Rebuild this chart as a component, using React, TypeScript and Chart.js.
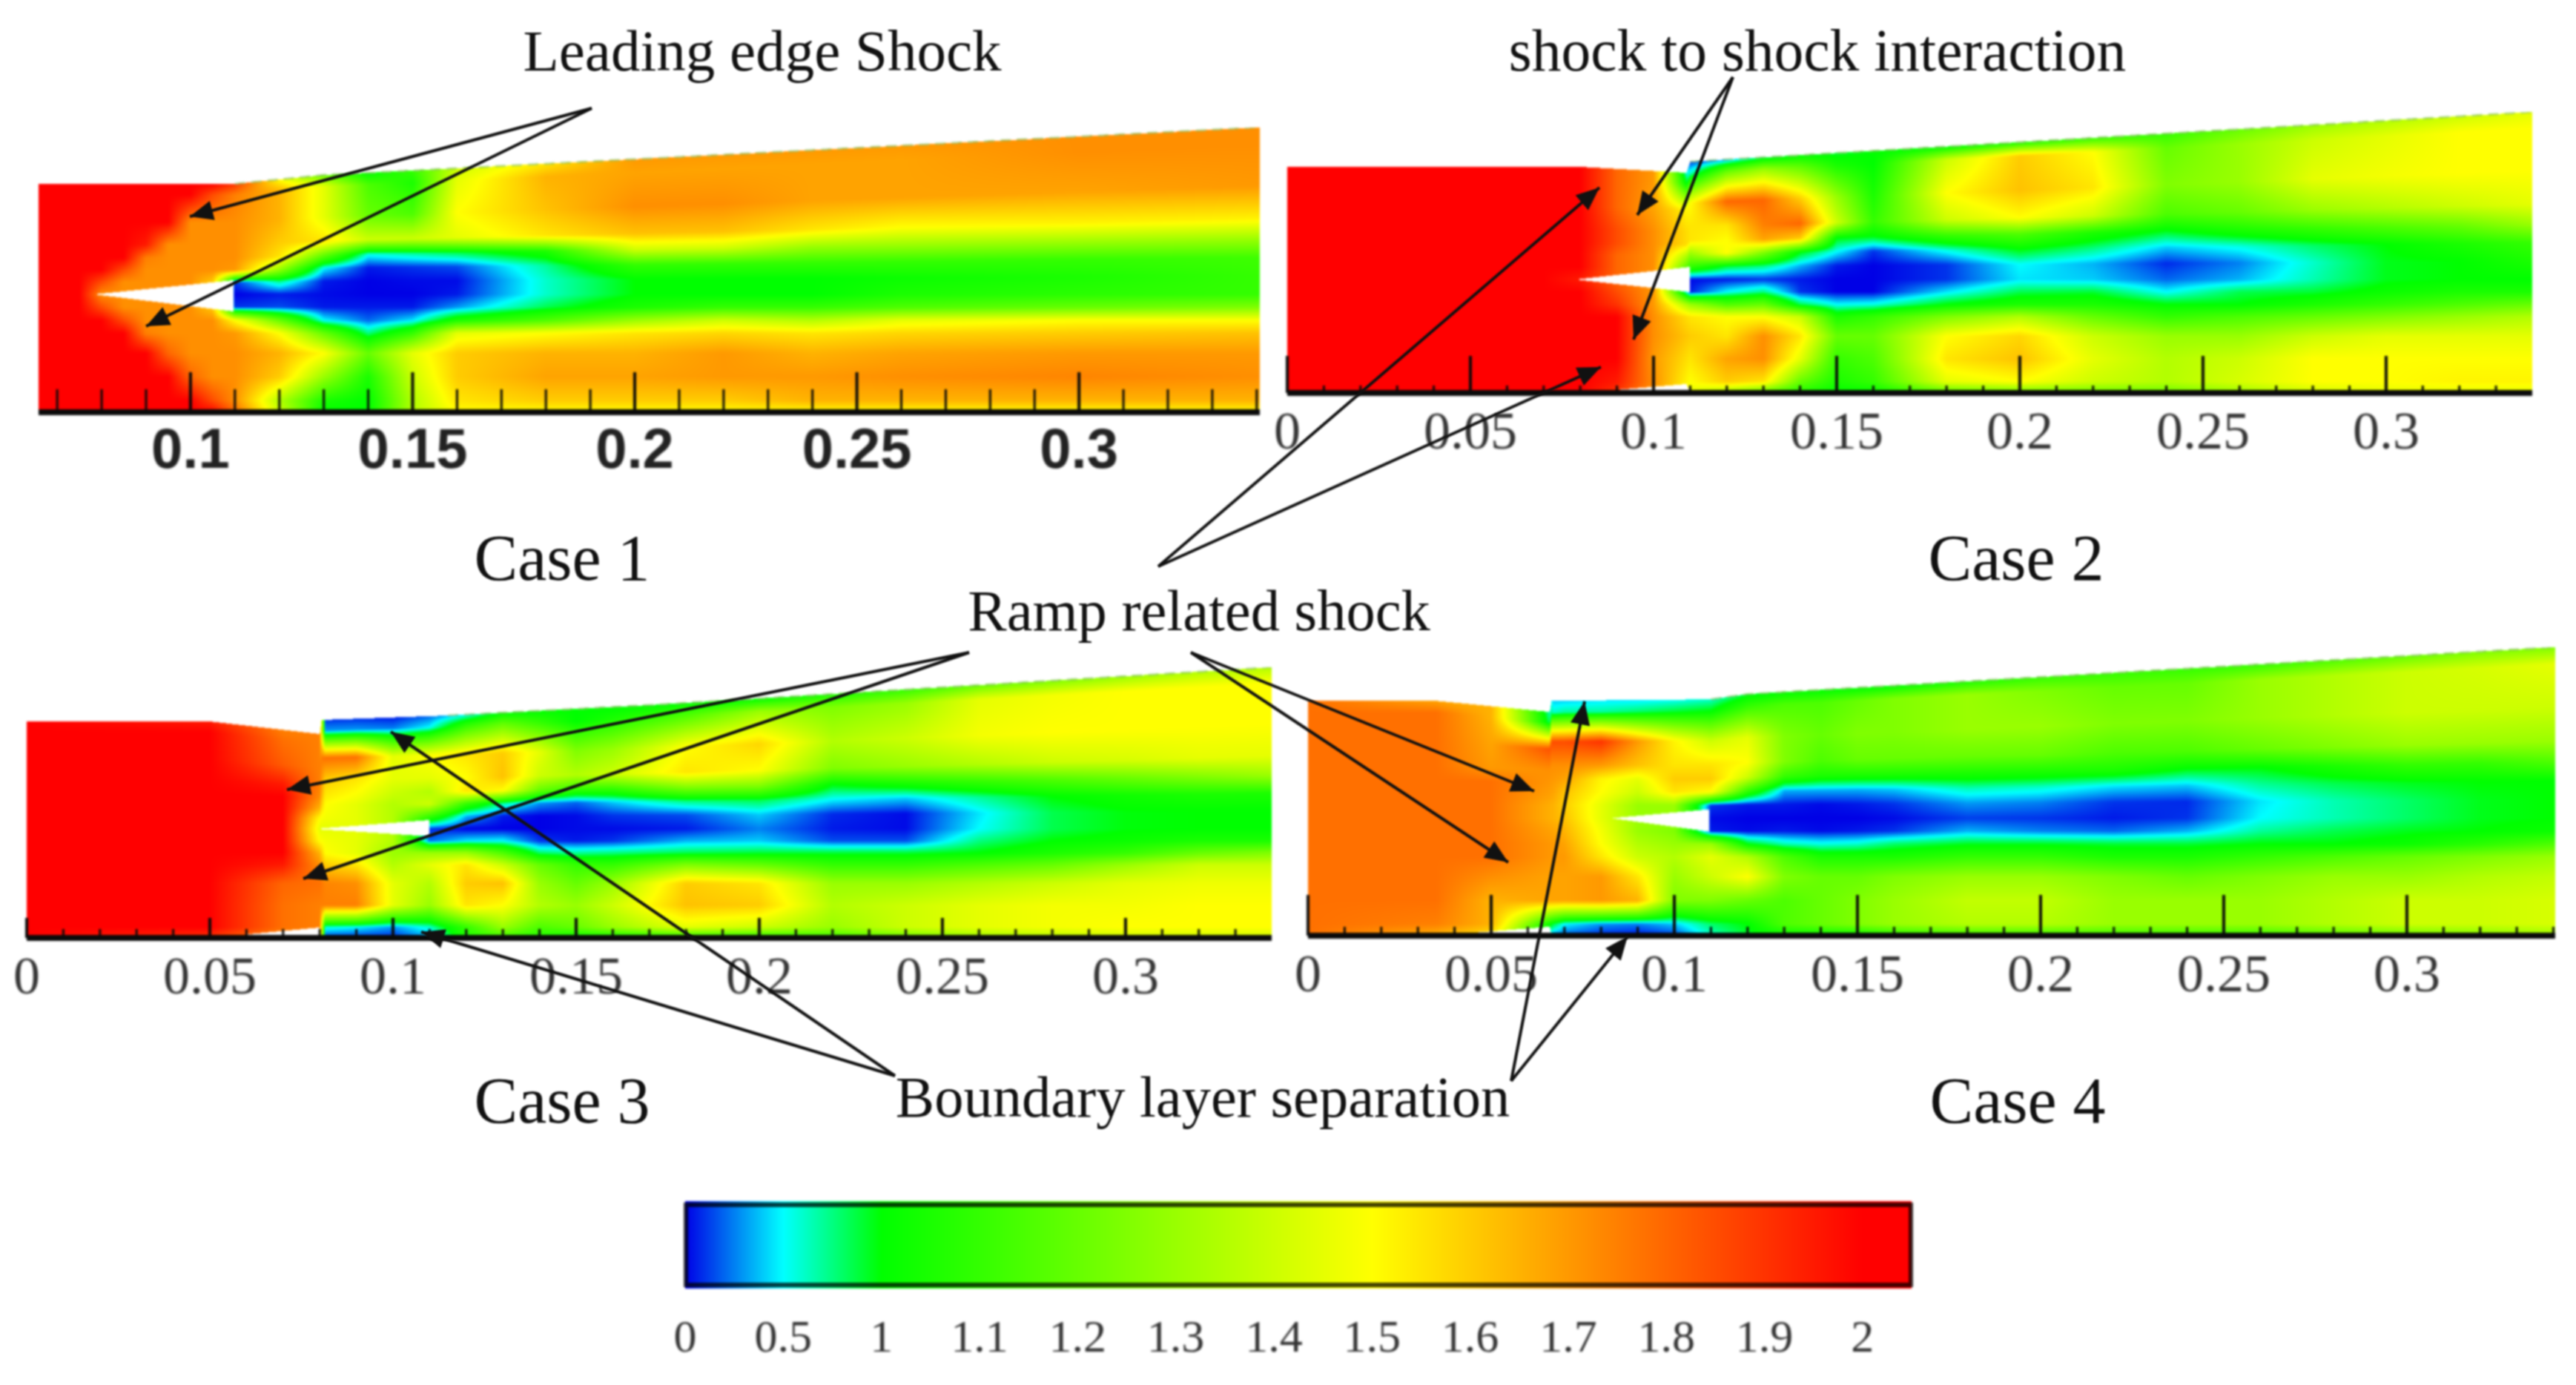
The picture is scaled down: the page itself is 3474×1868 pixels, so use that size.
import React, { useEffect, useRef } from "react";
import { Chart, registerables } from "chart.js";

Chart.register(...registerables);

// Colour legend: the labelled values sit at equal spacing on the bar
const legendLabels = ["0", "0.5", "1", "1.1", "1.2", "1.3", "1.4", "1.5", "1.6", "1.7", "1.8", "1.9", "2"];
const legendValues = [0, 0.5, 1, 1.1, 1.2, 1.3, 1.4, 1.5, 1.6, 1.7, 1.8, 1.9, 2];
const legendPositions = [0, 1, 2, 3, 4, 5, 6, 7, 8, 9, 10, 11, 12];
const colourStopAt = [0, 1, 2, 7, 12];
const colourStops = [
  [0, 0, 230],
  [0, 255, 255],
  [0, 255, 0],
  [255, 255, 0],
  [255, 0, 0],
];

// Field rows: +1 is the upper wall, 0 the centreline, -1 the lower wall
const rowFracs = [1, 0.9, 0.65, 0.45, 0.33, 0.22, 0.11, 0, -0.11, -0.22, -0.33, -0.5, -0.7, -0.9, -1];

const majorTicks = [0, 0.05, 0.1, 0.15, 0.2, 0.25, 0.3];
const minorTicks = [
  0.01, 0.02, 0.03, 0.04, 0.06, 0.07, 0.08, 0.09, 0.11, 0.12, 0.13, 0.14, 0.16, 0.17, 0.18, 0.19, 0.21, 0.22, 0.23,
  0.24, 0.26, 0.27, 0.28, 0.29, 0.31, 0.32, 0.33, 0.34,
];

const case1X = [0.0658, 0.075, 0.08, 0.085, 0.09, 0.095, 0.1, 0.105, 0.11, 0.12, 0.13, 0.14, 0.15, 0.16, 0.18, 0.2, 0.22, 0.24, 0.26, 0.3, 0.34];
const case1Field = [
  [2, 2, 2, 2, 2, 2, 2, 2, 2, 2, 2, 2, 2, 2, 2],
  [2, 2, 2, 2, 2, 2, 2, 2, 2, 2, 2, 2, 2, 2, 2],
  [2, 2, 2, 2, 2, 2, 1.85, 1.72, 1.85, 2, 2, 2, 2, 2, 2],
  [2, 2, 2, 2, 2, 1.85, 1.72, 1.72, 1.72, 1.85, 2, 2, 2, 2, 2],
  [2, 2, 2, 1.95, 1.75, 1.72, 1.72, 1.72, 1.72, 1.72, 1.75, 2, 2, 2, 2],
  [2, 2, 2, 1.72, 1.72, 1.72, 1.72, 1.72, 1.72, 1.72, 1.72, 1.8, 2, 2, 2],
  [2, 2, 1.72, 1.72, 1.72, 1.72, 1.72, 1.72, 1.72, 1.72, 1.72, 1.72, 1.8, 2, 2],
  [2, 1.85, 1.72, 1.72, 1.72, 1.72, 1.6, 1.4, 1.6, 1.72, 1.72, 1.72, 1.72, 1.85, 2],
  [1.9, 1.75, 1.72, 1.72, 1.72, 1.7, 0.1, 0, 0.1, 1.5, 1.7, 1.72, 1.72, 1.72, 1.8],
  [1.5, 1.65, 1.65, 1.6, 1.55, 1.3, 0.7, 0.05, 0.15, 1.2, 1.5, 1.65, 1.6, 1.35, 1.4],
  [1.2, 1.45, 1.45, 1.55, 1.2, 0.5, 0.05, 0.02, 0.05, 0.5, 1.2, 1.5, 1.3, 1.05, 1],
  [1, 1.15, 1.2, 1.4, 0.55, 0.05, 0, 0, 0.05, 0.2, 0.75, 1.2, 1.05, 1, 1],
  [1.1, 1.05, 1.15, 1.4, 0.7, 0.1, 0.02, 0, 0.05, 0.45, 1.1, 1.45, 1.4, 1.35, 1.35],
  [1.4, 1.45, 1.5, 1.45, 0.85, 0.15, 0.02, 0.05, 0.3, 1.05, 1.45, 1.6, 1.6, 1.55, 1.5],
  [1.55, 1.65, 1.62, 1.55, 1.05, 0.7, 0.6, 0.6, 0.85, 1.15, 1.5, 1.65, 1.68, 1.6, 1.5],
  [1.7, 1.68, 1.72, 1.62, 1.4, 1.1, 1, 1, 1.05, 1.3, 1.55, 1.65, 1.68, 1.6, 1.5],
  [1.7, 1.68, 1.72, 1.62, 1.4, 1.1, 1, 1, 1.1, 1.4, 1.58, 1.7, 1.7, 1.6, 1.5],
  [1.7, 1.68, 1.68, 1.55, 1.3, 1.1, 1, 1, 1.1, 1.35, 1.55, 1.65, 1.7, 1.65, 1.5],
  [1.7, 1.68, 1.68, 1.5, 1.3, 1.1, 1.02, 1.05, 1.15, 1.45, 1.58, 1.68, 1.72, 1.65, 1.5],
  [1.72, 1.72, 1.68, 1.52, 1.3, 1.1, 1.05, 1.08, 1.2, 1.5, 1.6, 1.7, 1.74, 1.65, 1.5],
  [1.72, 1.72, 1.7, 1.52, 1.3, 1.12, 1.1, 1.1, 1.25, 1.5, 1.62, 1.7, 1.72, 1.65, 1.5],
];
const case1WallX = [0.0658, 0.11, 0.13, 0.15, 0.34];
const case1WallY = [149, 149, 161, 167, 225];
const case1FloorX = [0.0658, 0.34];
const case1FloorY = [-159, -159];

const case2X = [0, 0.07, 0.08, 0.09, 0.1, 0.11, 0.12, 0.13, 0.14, 0.15, 0.16, 0.18, 0.2, 0.22, 0.24, 0.26, 0.28, 0.3, 0.32, 0.34];
const case2Field = [
  [2, 2, 2, 2, 2, 2, 2, 2, 2, 2, 2, 2, 2, 2, 2],
  [2, 2, 2, 2, 2, 2, 2, 2, 2, 2, 2, 2, 2, 2, 2],
  [2, 2, 2, 2, 2, 2, 2, 1.95, 2, 2, 2, 2, 2, 2, 2],
  [1.8, 1.8, 1.8, 1.85, 1.85, 1.8, 1.8, 1.8, 1.85, 1.9, 2, 2, 2, 1.95, 1.9],
  [1.7, 1.7, 1.68, 1.72, 1.72, 1.72, 1.72, 1.7, 1.7, 1.7, 1.72, 1.72, 1.7, 1.72, 1.7],
  [0.1, 0.6, 1.5, 1.55, 1.55, 1.3, 1.1, 0.02, 0.05, 1.3, 1.55, 1.6, 1.55, 1.5, 1.45],
  [0.3, 1.2, 1.8, 1.55, 1.5, 1.5, 0.9, 0.05, 0.5, 1.15, 1.5, 1.55, 1.68, 1.6, 1.3],
  [0.8, 1.3, 1.8, 1.75, 1.68, 1.25, 0.75, 0.1, 0.75, 1.2, 1.5, 1.72, 1.72, 1.55, 1.15],
  [1, 1.2, 1.6, 1.8, 1.6, 1, 0.35, 0.05, 0.1, 0.85, 1.4, 1.55, 1.45, 1.2, 1.05],
  [0.9, 1.05, 1.3, 1.4, 1, 0.5, 0.05, 0, 0, 0.5, 1.05, 1.2, 1.1, 1.05, 1],
  [1, 1, 1.05, 1.1, 0.95, 0.1, 0, 0, 0, 0.55, 1.1, 1.2, 1.15, 1.1, 1],
  [1, 1.4, 1.5, 1.4, 1.1, 0.55, 0.1, 0.1, 0.45, 1, 1.25, 1.5, 1.55, 1.45, 1.15],
  [1.05, 1.6, 1.62, 1.5, 1.15, 1, 0.5, 0.45, 0.85, 1.05, 1.35, 1.58, 1.62, 1.5, 1.2],
  [1.1, 1.5, 1.55, 1.4, 1.05, 0.75, 0.35, 0.4, 0.9, 1.05, 1.2, 1.4, 1.45, 1.4, 1.2],
  [1.1, 1.2, 1.25, 1.15, 0.95, 0.4, 0.08, 0.2, 0.5, 1, 1.1, 1.3, 1.35, 1.35, 1.2],
  [1.2, 1.3, 1.3, 1.2, 1.05, 0.55, 0.25, 0.35, 0.85, 1, 1.15, 1.3, 1.4, 1.42, 1.3],
  [1.3, 1.4, 1.45, 1.3, 1.1, 0.8, 0.6, 0.65, 0.9, 1.05, 1.2, 1.4, 1.5, 1.5, 1.4],
  [1.35, 1.45, 1.48, 1.35, 1.15, 1, 0.95, 0.95, 1.02, 1.1, 1.25, 1.45, 1.5, 1.5, 1.45],
  [1.4, 1.5, 1.5, 1.4, 1.2, 1.05, 1, 1, 1.05, 1.15, 1.3, 1.45, 1.5, 1.52, 1.45],
  [1.45, 1.5, 1.5, 1.45, 1.3, 1.1, 1.05, 1, 1.05, 1.2, 1.35, 1.45, 1.5, 1.52, 1.45],
];
const case2WallX = [0, 0.08, 0.109, 0.11, 0.34];
const case2WallY = [152, 152, 144, 159, 226];
const case2FloorX = [0, 0.08, 0.109, 0.11, 0.34];
const case2FloorY = [-153, -153, -141, -153, -153];

const case3X = [0, 0.05, 0.07, 0.08, 0.0815, 0.09, 0.1, 0.11, 0.12, 0.13, 0.14, 0.15, 0.16, 0.18, 0.2, 0.22, 0.24, 0.26, 0.28, 0.3, 0.32, 0.34];
const case3Field = [
  [2, 2, 2, 2, 2, 2, 2, 2, 2, 2, 2, 2, 2, 2, 2],
  [1.95, 2, 2, 2, 2, 2, 2, 2, 2, 2, 2, 2, 2, 2, 1.9],
  [1.75, 1.78, 1.82, 1.95, 2, 2, 2, 2, 2, 2, 1.95, 1.8, 1.78, 1.78, 1.7],
  [1.75, 1.75, 1.75, 1.75, 1.72, 1.65, 1.5, 1.45, 1.5, 1.65, 1.72, 1.78, 1.75, 1.75, 1.7],
  [0.1, 0.3, 1.78, 1.6, 1.55, 1.5, 1.48, 1.45, 1.48, 1.5, 1.6, 1.74, 1.75, 0.6, 0.05],
  [0.1, 0.3, 1.78, 1.55, 1.5, 1.45, 1.45, 1.45, 1.45, 1.45, 1.55, 1.72, 1.75, 0.5, 0.05],
  [0.05, 0.25, 1.45, 1.45, 1.4, 1.35, 1.35, 1.35, 1.35, 1.3, 1.35, 1.45, 1.45, 0.3, 0.05],
  [0.2, 0.5, 1.5, 1.45, 1.35, 1.4, 1.1, 0.1, 0.2, 1.3, 1.45, 1.35, 1.3, 0.6, 0.3],
  [0.5, 1.1, 1.55, 1.5, 1.55, 1.1, 0.35, 0, 0.45, 1.3, 1.55, 1.6, 1.55, 1.1, 1.05],
  [1, 1.2, 1.6, 1.62, 1.5, 0.7, 0.05, 0, 0.5, 1.15, 1.4, 1.62, 1.5, 1.3, 1.1],
  [1, 1.1, 1.45, 1.4, 1.2, 0.3, 0, 0, 0.1, 0.8, 1.2, 1.3, 1.35, 1.15, 1.05],
  [1, 1, 1.25, 1.35, 1.1, 0.2, 0.02, 0.02, 0.05, 0.7, 1.1, 1.2, 1.3, 1.2, 1],
  [1, 1.05, 1.3, 1.4, 1.1, 0.4, 0.1, 0.02, 0.1, 0.75, 1.1, 1.3, 1.4, 1.3, 1],
  [1, 1.15, 1.5, 1.55, 1.25, 0.75, 0.15, 0.05, 0.35, 0.85, 1.25, 1.6, 1.62, 1.45, 1.05],
  [1, 1.3, 1.58, 1.5, 1.25, 0.85, 0.4, 0.25, 0.4, 0.9, 1.2, 1.55, 1.6, 1.4, 1.05],
  [1.05, 1.25, 1.35, 1.25, 1, 0.5, 0.08, 0.05, 0.15, 0.9, 1.1, 1.3, 1.35, 1.3, 1.1],
  [1.1, 1.3, 1.4, 1.3, 1.05, 0.4, 0.02, 0.02, 0.15, 0.9, 1.1, 1.3, 1.4, 1.4, 1.2],
  [1.2, 1.45, 1.48, 1.35, 1.1, 0.7, 0.45, 0.5, 0.75, 1, 1.15, 1.35, 1.45, 1.45, 1.3],
  [1.25, 1.48, 1.5, 1.4, 1.15, 1, 0.85, 0.85, 1, 1.05, 1.2, 1.4, 1.48, 1.48, 1.35],
  [1.3, 1.5, 1.5, 1.42, 1.2, 1.03, 0.98, 0.98, 1.02, 1.1, 1.3, 1.45, 1.48, 1.5, 1.4],
  [1.35, 1.5, 1.5, 1.45, 1.25, 1.05, 1, 1, 1.05, 1.2, 1.4, 1.47, 1.5, 1.5, 1.4],
  [1.35, 1.5, 1.5, 1.45, 1.3, 1.05, 1, 1, 1.05, 1.25, 1.4, 1.47, 1.5, 1.5, 1.4],
];
const case3WallX = [0, 0.05, 0.08, 0.0805, 0.115, 0.17, 0.24, 0.34];
const case3WallY = [145, 145, 128, 147, 153, 167, 188, 218];
const case3FloorX = [0, 0.05, 0.08, 0.0805, 0.34];
const case3FloorY = [-147, -147, -133, -147, -147];

const case4X = [0, 0.035, 0.05, 0.067, 0.07, 0.08, 0.09, 0.1, 0.11, 0.12, 0.13, 0.14, 0.15, 0.16, 0.18, 0.2, 0.22, 0.24, 0.26, 0.28, 0.3, 0.32, 0.34];
const case4Field = [
  [1.78, 1.78, 1.78, 1.78, 1.78, 1.78, 1.78, 1.78, 1.78, 1.78, 1.78, 1.78, 1.78, 1.78, 1.78],
  [1.68, 1.78, 1.78, 1.78, 1.78, 1.78, 1.78, 1.78, 1.78, 1.78, 1.78, 1.78, 1.78, 1.75, 1.65],
  [1.65, 1.65, 1.68, 1.7, 1.78, 1.78, 1.78, 1.78, 1.78, 1.78, 1.78, 1.72, 1.65, 1.65, 1.55],
  [0.4, 0.6, 1.85, 1.72, 1.7, 1.68, 1.65, 1.65, 1.68, 1.7, 1.7, 1.68, 1.68, 0.9, 0.2],
  [0.4, 0.7, 1.85, 1.72, 1.68, 1.62, 1.6, 1.62, 1.65, 1.68, 1.7, 1.68, 1.68, 0.5, 0.15],
  [0.45, 0.7, 1.9, 1.7, 1.52, 1.5, 1.45, 1.45, 1.48, 1.5, 1.55, 1.7, 1.7, 0.3, 0.05],
  [0.45, 0.8, 1.7, 1.62, 1.45, 1.4, 1.3, 1.3, 1.3, 1.35, 1.4, 1.55, 1.65, 0.25, 0.02],
  [0.5, 0.9, 1.52, 1.55, 1.6, 1.55, 1.3, 1.3, 1.25, 1.3, 1.35, 1.3, 1.25, 0.4, 0.1],
  [0.6, 1, 1.4, 1.55, 1.6, 1.5, 0.1, 0.02, 0.05, 1.3, 1.45, 1.4, 1.25, 0.8, 0.6],
  [0.9, 1.1, 1.45, 1.5, 1.4, 1.1, 0.05, 0, 0.02, 1, 1.35, 1.5, 1.2, 1, 0.9],
  [1, 1.15, 1.25, 1.25, 1.1, 0.35, 0.05, 0, 0.05, 0.65, 1.15, 1.25, 1.15, 1.15, 1],
  [1, 1.15, 1.2, 1.15, 1.05, 0.35, 0.02, 0, 0.02, 0.55, 1.05, 1.2, 1.2, 1.2, 1],
  [1, 1.2, 1.25, 1.2, 1.05, 0.35, 0.05, 0, 0.05, 0.6, 1.05, 1.2, 1.25, 1.25, 1],
  [1, 1.25, 1.25, 1.2, 1.05, 0.4, 0.1, 0.02, 0.1, 0.8, 1.05, 1.25, 1.3, 1.3, 1.05],
  [1.05, 1.3, 1.3, 1.2, 1.05, 0.65, 0.3, 0.12, 0.35, 0.95, 1.1, 1.3, 1.38, 1.35, 1.1],
  [1.1, 1.25, 1.3, 1.2, 1.05, 0.6, 0.25, 0.1, 0.25, 0.95, 1.1, 1.3, 1.38, 1.35, 1.1],
  [1.1, 1.2, 1.25, 1.15, 1.05, 0.45, 0.1, 0.05, 0.2, 0.9, 1.05, 1.25, 1.3, 1.3, 1.1],
  [1.1, 1.2, 1.25, 1.15, 1, 0.4, 0.08, 0.1, 0.35, 0.9, 1.05, 1.2, 1.3, 1.3, 1.1],
  [1.1, 1.3, 1.3, 1.2, 1, 0.7, 0.45, 0.5, 0.7, 1, 1.1, 1.25, 1.3, 1.3, 1.1],
  [1.15, 1.35, 1.35, 1.25, 1.05, 0.85, 0.65, 0.65, 0.85, 1, 1.15, 1.3, 1.35, 1.35, 1.15],
  [1.2, 1.4, 1.4, 1.3, 1.1, 0.95, 0.8, 0.8, 0.95, 1.02, 1.2, 1.3, 1.4, 1.4, 1.2],
  [1.25, 1.42, 1.4, 1.3, 1.1, 1, 0.95, 0.95, 1, 1.08, 1.25, 1.35, 1.4, 1.4, 1.25],
  [1.25, 1.45, 1.4, 1.3, 1.15, 1, 1, 1, 1.02, 1.15, 1.3, 1.38, 1.42, 1.42, 1.3],
];
const case4WallX = [0, 0.035, 0.066, 0.0665, 0.11, 0.12, 0.34];
const case4WallY = [158, 158, 143, 158, 160, 167, 230];
const case4FloorX = [0, 0.035, 0.066, 0.0665, 0.34];
const case4FloorY = [-158, -158, -146, -158, -158];

const caseTitles = ["Case 1", "Case 2", "Case 3", "Case 4"];
const calloutTitles = ["Leading edge Shock", "shock to shock interaction", "Ramp related shock", "Boundary layer separation"];

const panels = [
  {
    xs: case1X, field: case1Field, wallX: case1WallX, wallY: case1WallY, floorX: case1FloorX, floorY: case1FloorY,
    left: 52, right: 1699, top: 172, baseline: 556, xMin: 0.0658, xMax: 0.3407, depth: 159,
    wedge: [0.0783, 0.1097, 19, 23], majorLen: 54, minorLen: 31, fontSize: 76, fontFamily: "Liberation Sans", fontWeight: "bold", pad: 0, ink: "#222",
  },
  {
    xs: case2X, field: case2Field, wallX: case2WallX, wallY: case2WallY, floorX: case2FloorX, floorY: case2FloorY,
    left: 1736, right: 3415, top: 151, baseline: 530, xMin: 0, xMax: 0.3399, depth: 153,
    wedge: [0.0789, 0.11, 17, 17], majorLen: 50, minorLen: 10, fontSize: 72, fontFamily: "Liberation Sans Narrow", fontWeight: "normal", pad: 5, ink: "#333",
  },
  {
    xs: case3X, field: case3Field, wallX: case3WallX, wallY: case3WallY, floorX: case3FloorX, floorY: case3FloorY,
    left: 36, right: 1715, top: 900, baseline: 1265, xMin: 0, xMax: 0.3399, depth: 147,
    wedge: [0.079, 0.11, 12, 10], majorLen: 27, minorLen: 12, fontSize: 72, fontFamily: "Liberation Sans Narrow", fontWeight: "normal", pad: 5, ink: "#333",
  },
  {
    xs: case4X, field: case4Field, wallX: case4WallX, wallY: case4WallY, floorX: case4FloorX, floorY: case4FloorY,
    left: 1764, right: 3446, top: 873, baseline: 1262, xMin: 0, xMax: 0.3405, depth: 158,
    wedge: [0.0829, 0.1096, 12, 18], majorLen: 55, minorLen: 12, fontSize: 72, fontFamily: "Liberation Sans Narrow", fontWeight: "normal", pad: 5, ink: "#333",
  },
];

// Page placement of the annotation layer, in page pixels
const titleSpots = [
  [758, 759, 88], [2719, 759, 88], [758, 1491, 88], [2721, 1491, 88],
];
const calloutSpots = [
  [1028, 74, 79], [2451, 74, 79.5], [1617, 829, 78.5], [1622, 1485, 78.5],
];
const arrows = [
  [798, 146, 256, 292], [798, 146, 197, 440],
  [2337, 104, 2208, 290], [2337, 104, 2203, 458],
  [1562, 764, 2157, 253], [1562, 764, 2159, 495],
  [1307, 880, 387, 1065], [1307, 880, 409, 1185],
  [1606, 880, 2069, 1067], [1606, 880, 2034, 1163],
  [1207, 1451, 527, 987], [1207, 1451, 568, 1257],
  [2038, 1458, 2137, 946], [2038, 1458, 2195, 1263],
];

const SIDE = 60;
const LABEL_BAND = 110;

function legendIndex(v: number) {
  for (let i = 1; i < legendValues.length; i++) {
    if (v <= legendValues[i]) {
      const a = legendValues[i - 1];
      return i - 1 + (v - a) / (legendValues[i] - a);
    }
  }
  return legendValues.length - 1;
}

function colourAt(idx: number) {
  const t = Math.max(0, Math.min(12, idx));
  let i = 0;
  while (i < colourStopAt.length - 2 && t > colourStopAt[i + 1]) i++;
  const f = (t - colourStopAt[i]) / (colourStopAt[i + 1] - colourStopAt[i]);
  const a = colourStops[i];
  const b = colourStops[i + 1];
  return [a[0] + (b[0] - a[0]) * f, a[1] + (b[1] - a[1]) * f, a[2] + (b[2] - a[2]) * f];
}

function lerpAt(xs: number[], ys: number[], x: number) {
  if (x <= xs[0]) return ys[0];
  for (let i = 1; i < xs.length; i++) {
    if (x <= xs[i]) return ys[i - 1] + ((ys[i] - ys[i - 1]) * (x - xs[i - 1])) / (xs[i] - xs[i - 1]);
  }
  return ys[ys.length - 1];
}

const fieldPlugin = {
  id: "field",
  beforeDatasetsDraw(chart: any, _args: any, opts: any) {
    const { ctx, chartArea, scales } = chart;
    const p = opts.panel;
    const w = Math.round(chartArea.right - chartArea.left);
    const h = Math.round(chartArea.bottom - chartArea.top);
    const off = document.createElement("canvas");
    off.width = w;
    off.height = h;
    const octx = off.getContext("2d")!;
    const img = octx.createImageData(w, h);
    const idxField = p.field.map((col: number[]) => col.map(legendIndex));
    const nRows = rowFracs.length;
    for (let px = 0; px < w; px++) {
      const x = scales.x.getValueForPixel(chartArea.left + px + 0.5);
      const wall = lerpAt(p.wallX, p.wallY, x);
      const floor = lerpAt(p.floorX, p.floorY, x);
      let c = 0;
      while (c < p.xs.length - 2 && x > p.xs[c + 1]) c++;
      const fx = Math.max(0, Math.min(1, (x - p.xs[c]) / (p.xs[c + 1] - p.xs[c])));
      const [tip, end, up, down] = p.wedge;
      const inWedge = x >= tip && x <= end ? (x - tip) / (end - tip) : -1;
      for (let py = 0; py < h; py++) {
        const y = scales.y.getValueForPixel(chartArea.top + py + 0.5);
        const k = (py * w + px) * 4;
        if (y > wall || y < floor) continue;
        if (inWedge >= 0 && y < up * inWedge && y > -down * inWedge) {
          img.data[k] = 255;
          img.data[k + 1] = 255;
          img.data[k + 2] = 255;
          img.data[k + 3] = 255;
          continue;
        }
        const frac = y >= 0 ? y / wall : y / p.depth;
        let r = 0;
        while (r < nRows - 2 && frac < rowFracs[r + 1]) r++;
        const fy = Math.max(0, Math.min(1, (rowFracs[r] - frac) / (rowFracs[r] - rowFracs[r + 1])));
        const v0 = idxField[c][r] * (1 - fx) + idxField[c + 1][r] * fx;
        const v1 = idxField[c][r + 1] * (1 - fx) + idxField[c + 1][r + 1] * fx;
        const rgb = colourAt(v0 * (1 - fy) + v1 * fy);
        img.data[k] = rgb[0];
        img.data[k + 1] = rgb[1];
        img.data[k + 2] = rgb[2];
        img.data[k + 3] = 255;
      }
    }
    octx.putImageData(img, 0, 0);
    ctx.drawImage(off, chartArea.left, chartArea.top);
  },
  afterDatasetsDraw(chart: any, _args: any, opts: any) {
    const { ctx, chartArea, scales } = chart;
    const p = opts.panel;
    ctx.save();
    ctx.strokeStyle = "#0a0a0a";
    scales.x.ticks.forEach((t: any) => {
      const isMajor = majorTicks.includes(t.value);
      const len = isMajor ? p.majorLen : p.minorLen;
      const px = scales.x.getPixelForValue(t.value);
      ctx.lineWidth = isMajor ? 4 : 3;
      ctx.beginPath();
      ctx.moveTo(px, chartArea.bottom);
      ctx.lineTo(px, chartArea.bottom - len);
      ctx.stroke();
    });
    ctx.lineWidth = 8;
    ctx.beginPath();
    ctx.moveTo(chartArea.left, chartArea.bottom);
    ctx.lineTo(chartArea.right, chartArea.bottom);
    ctx.stroke();
    ctx.restore();
  },
};

function CasePanel({ panel }: { panel: (typeof panels)[number] }) {
  const canvasRef = useRef<HTMLCanvasElement | null>(null);

  useEffect(() => {
    if (!canvasRef.current) return;
    const tickValues = [...majorTicks, ...minorTicks]
      .filter((v) => v >= panel.xMin && v <= panel.xMax)
      .sort((a, b) => a - b);
    const chart = new Chart(canvasRef.current, {
      type: "scatter",
      data: {
        datasets: [
          {
            // thin fringe along the upper wall
            data: panel.wallX.map((x, i) => ({ x, y: panel.wallY[i] })),
            showLine: true,
            borderColor: "rgba(130,190,90,0.55)",
            borderWidth: 3,
            borderDash: [14, 8],
            pointRadius: 0,
            segment: {
              borderColor: (c: any) => (c.p0.parsed.x < 0.11 ? "rgba(255,255,255,0)" : "rgba(130,190,90,0.55)"),
            },
          },
        ],
      },
      options: {
        animation: false,
        responsive: false,
        devicePixelRatio: 1,
        layout: { padding: { left: SIDE, right: SIDE, top: 0, bottom: 0 } },
        plugins: { legend: { display: false }, tooltip: { enabled: false }, field: { panel } },
        scales: {
          x: {
            type: "linear",
            min: panel.xMin,
            max: panel.xMax,
            grid: { display: false },
            border: { display: false },
            afterBuildTicks: (s: any) => {
              s.ticks = tickValues.map((value) => ({ value }));
            },
            afterFit: (s: any) => {
              s.height = LABEL_BAND;
              s.paddingLeft = 0;
              s.paddingRight = 0;
            },
            ticks: {
              autoSkip: false,
              maxRotation: 0,
              padding: panel.pad,
              color: panel.ink,
              font: { size: panel.fontSize, family: panel.fontFamily, weight: panel.fontWeight },
              callback: (v: any) => (majorTicks.includes(v) ? String(v) : ""),
            },
          },
          y: {
            type: "linear",
            display: false,
            min: -panel.depth,
            max: panel.wallY[panel.wallY.length - 1],
          },
        },
      } as any,
      plugins: [fieldPlugin],
    });
    return () => chart.destroy();
  }, [panel]);

  return (
    <canvas
      ref={canvasRef}
      width={panel.right - panel.left + SIDE * 2}
      height={panel.baseline - panel.top + LABEL_BAND}
      style={{
        position: "absolute",
        left: panel.left - SIDE,
        top: panel.top,
        filter: "blur(1.6px)",
      }}
    />
  );
}

const legendPlugin = {
  id: "legendBar",
  beforeDatasetsDraw(chart: any) {
    const { ctx, chartArea, scales } = chart;
    const grad = ctx.createLinearGradient(chartArea.left, 0, chartArea.right, 0);
    const span = chartArea.right - chartArea.left;
    colourStopAt.forEach((at, i) => {
      const c = colourStops[i];
      grad.addColorStop((scales.x.getPixelForValue(at) - chartArea.left) / span, `rgb(${c[0]},${c[1]},${c[2]})`);
    });
    ctx.save();
    ctx.fillStyle = grad;
    ctx.fillRect(chartArea.left, chartArea.top, span, chartArea.bottom - chartArea.top);
    ctx.strokeStyle = "rgba(0,0,0,0.75)";
    ctx.lineWidth = 6;
    ctx.strokeRect(chartArea.left + 1, chartArea.top + 5, span - 2, chartArea.bottom - chartArea.top - 10);
    ctx.restore();
  },
};

function LegendBar() {
  const canvasRef = useRef<HTMLCanvasElement | null>(null);

  useEffect(() => {
    if (!canvasRef.current) return;
    const chart = new Chart(canvasRef.current, {
      type: "scatter",
      data: { datasets: [{ data: [] }] },
      options: {
        animation: false,
        responsive: false,
        devicePixelRatio: 1,
        layout: { padding: { left: SIDE, right: SIDE, top: 0, bottom: 0 } },
        plugins: { legend: { display: false }, tooltip: { enabled: false } },
        scales: {
          x: {
            type: "linear",
            min: 0,
            max: 12.5,
            grid: { display: false },
            border: { display: false },
            afterBuildTicks: (s: any) => {
              s.ticks = legendPositions.map((value) => ({ value }));
            },
            afterFit: (s: any) => {
              s.height = 100;
              s.paddingLeft = 0;
              s.paddingRight = 0;
            },
            ticks: {
              autoSkip: false,
              maxRotation: 0,
              padding: 24,
              color: "#333",
              font: { size: 62, family: "Liberation Sans Narrow" },
              callback: (v: any) => legendLabels[v],
            },
          },
          y: { type: "linear", display: false, min: 0, max: 1 },
        },
      } as any,
      plugins: [legendPlugin],
    });
    return () => chart.destroy();
  }, []);

  return (
    <canvas
      ref={canvasRef}
      width={1654 + SIDE * 2}
      height={118 + 100}
      style={{ position: "absolute", left: 924 - SIDE, top: 1620, filter: "blur(1.4px)" }}
    />
  );
}

const annotationPlugin = {
  id: "annotations",
  afterDatasetsDraw(chart: any) {
    const { ctx, scales } = chart;
    ctx.save();
    ctx.fillStyle = "#111";
    ctx.textAlign = "center";
    ctx.textBaseline = "middle";
    const put = (text: string, spot: number[]) => {
      ctx.font = `${spot[2]}px 'Liberation Serif'`;
      ctx.fillText(text, scales.x.getPixelForValue(spot[0]), scales.y.getPixelForValue(spot[1]));
    };
    caseTitles.forEach((t, i) => put(t, titleSpots[i]));
    calloutTitles.forEach((t, i) => put(t, calloutSpots[i]));
    // arrow heads at the end of every line dataset
    arrows.forEach((a) => {
      const x0 = scales.x.getPixelForValue(a[0]);
      const y0 = scales.y.getPixelForValue(a[1]);
      const x1 = scales.x.getPixelForValue(a[2]);
      const y1 = scales.y.getPixelForValue(a[3]);
      const ang = Math.atan2(y0 - y1, x0 - x1);
      ctx.beginPath();
      ctx.moveTo(x1, y1);
      ctx.lineTo(x1 + 34 * Math.cos(ang + 0.4), y1 + 34 * Math.sin(ang + 0.4));
      ctx.lineTo(x1 + 34 * Math.cos(ang - 0.4), y1 + 34 * Math.sin(ang - 0.4));
      ctx.closePath();
      ctx.fill();
    });
    ctx.restore();
  },
};

function Annotations() {
  const canvasRef = useRef<HTMLCanvasElement | null>(null);

  useEffect(() => {
    if (!canvasRef.current) return;
    const chart = new Chart(canvasRef.current, {
      type: "scatter",
      data: {
        datasets: arrows.map((a) => ({
          data: [
            { x: a[0], y: a[1] },
            { x: a[2], y: a[3] },
          ],
          showLine: true,
          borderColor: "#111",
          borderWidth: 4,
          pointRadius: 0,
        })),
      },
      options: {
        animation: false,
        responsive: false,
        devicePixelRatio: 1,
        layout: { padding: 0 },
        plugins: { legend: { display: false }, tooltip: { enabled: false } },
        scales: {
          x: { type: "linear", display: false, min: 0, max: 3474 },
          y: { type: "linear", display: false, min: 0, max: 1868, reverse: true },
        },
      } as any,
      plugins: [annotationPlugin],
    });
    return () => chart.destroy();
  }, []);

  return (
    <canvas
      ref={canvasRef}
      width={3474}
      height={1868}
      style={{ position: "absolute", left: 0, top: 0, filter: "blur(0.8px)" }}
    />
  );
}

export default function App() {
  useEffect(() => {
    document.body.style.margin = "0";
    document.documentElement.style.overflow = "hidden";
  }, []);

  return (
    <div style={{ position: "relative", width: 3474, height: 1868, background: "#fff", overflow: "hidden" }}>
      {panels.map((panel, i) => (
        <CasePanel key={i} panel={panel} />
      ))}
      <LegendBar />
      <Annotations />
    </div>
  );
}
